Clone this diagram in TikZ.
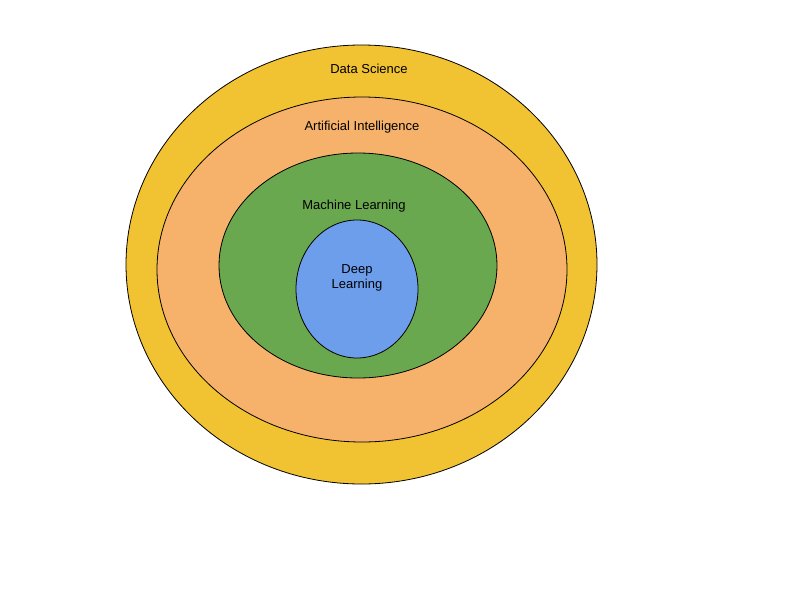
\documentclass[tikz,border=0pt]{standalone}
\usepackage{fontspec}
\setmainfont{Liberation Sans}
\definecolor{ds}{HTML}{F1C232}
\definecolor{ai}{HTML}{F6B26B}
\definecolor{ml}{HTML}{6AA84F}
\definecolor{dl}{HTML}{6D9EEB}
\begin{document}
\begin{tikzpicture}[x=1pt,y=-1pt,ring/.style={draw=black,line width=0.8pt},lab/.style={font=\fontsize{13}{15.5}\selectfont,align=center}]
\useasboundingbox (0,0) rectangle (800,600);
\fill[white] (0,0) rectangle (800,600);
\draw[ring,fill=ds] (361.5,264.5) ellipse [x radius=235.5,y radius=219.5];
\draw[ring,fill=ai] (362,269.5) ellipse [x radius=205,y radius=172.5];
\draw[ring,fill=ml] (358,265.5) ellipse [x radius=139,y radius=112.5];
\draw[ring,fill=dl] (357,289) ellipse [x radius=61,y radius=69];
\node[lab] (tds) at (369,69) {Data Science};
\node[lab] (tai) at (362,127) {Artificial Intelligence};
\node[lab] (tml) at (354,206) {Machine Learning};
\node[lab] (tdl) at (357,278) {Deep\\Learning};
\end{tikzpicture}
\end{document}
